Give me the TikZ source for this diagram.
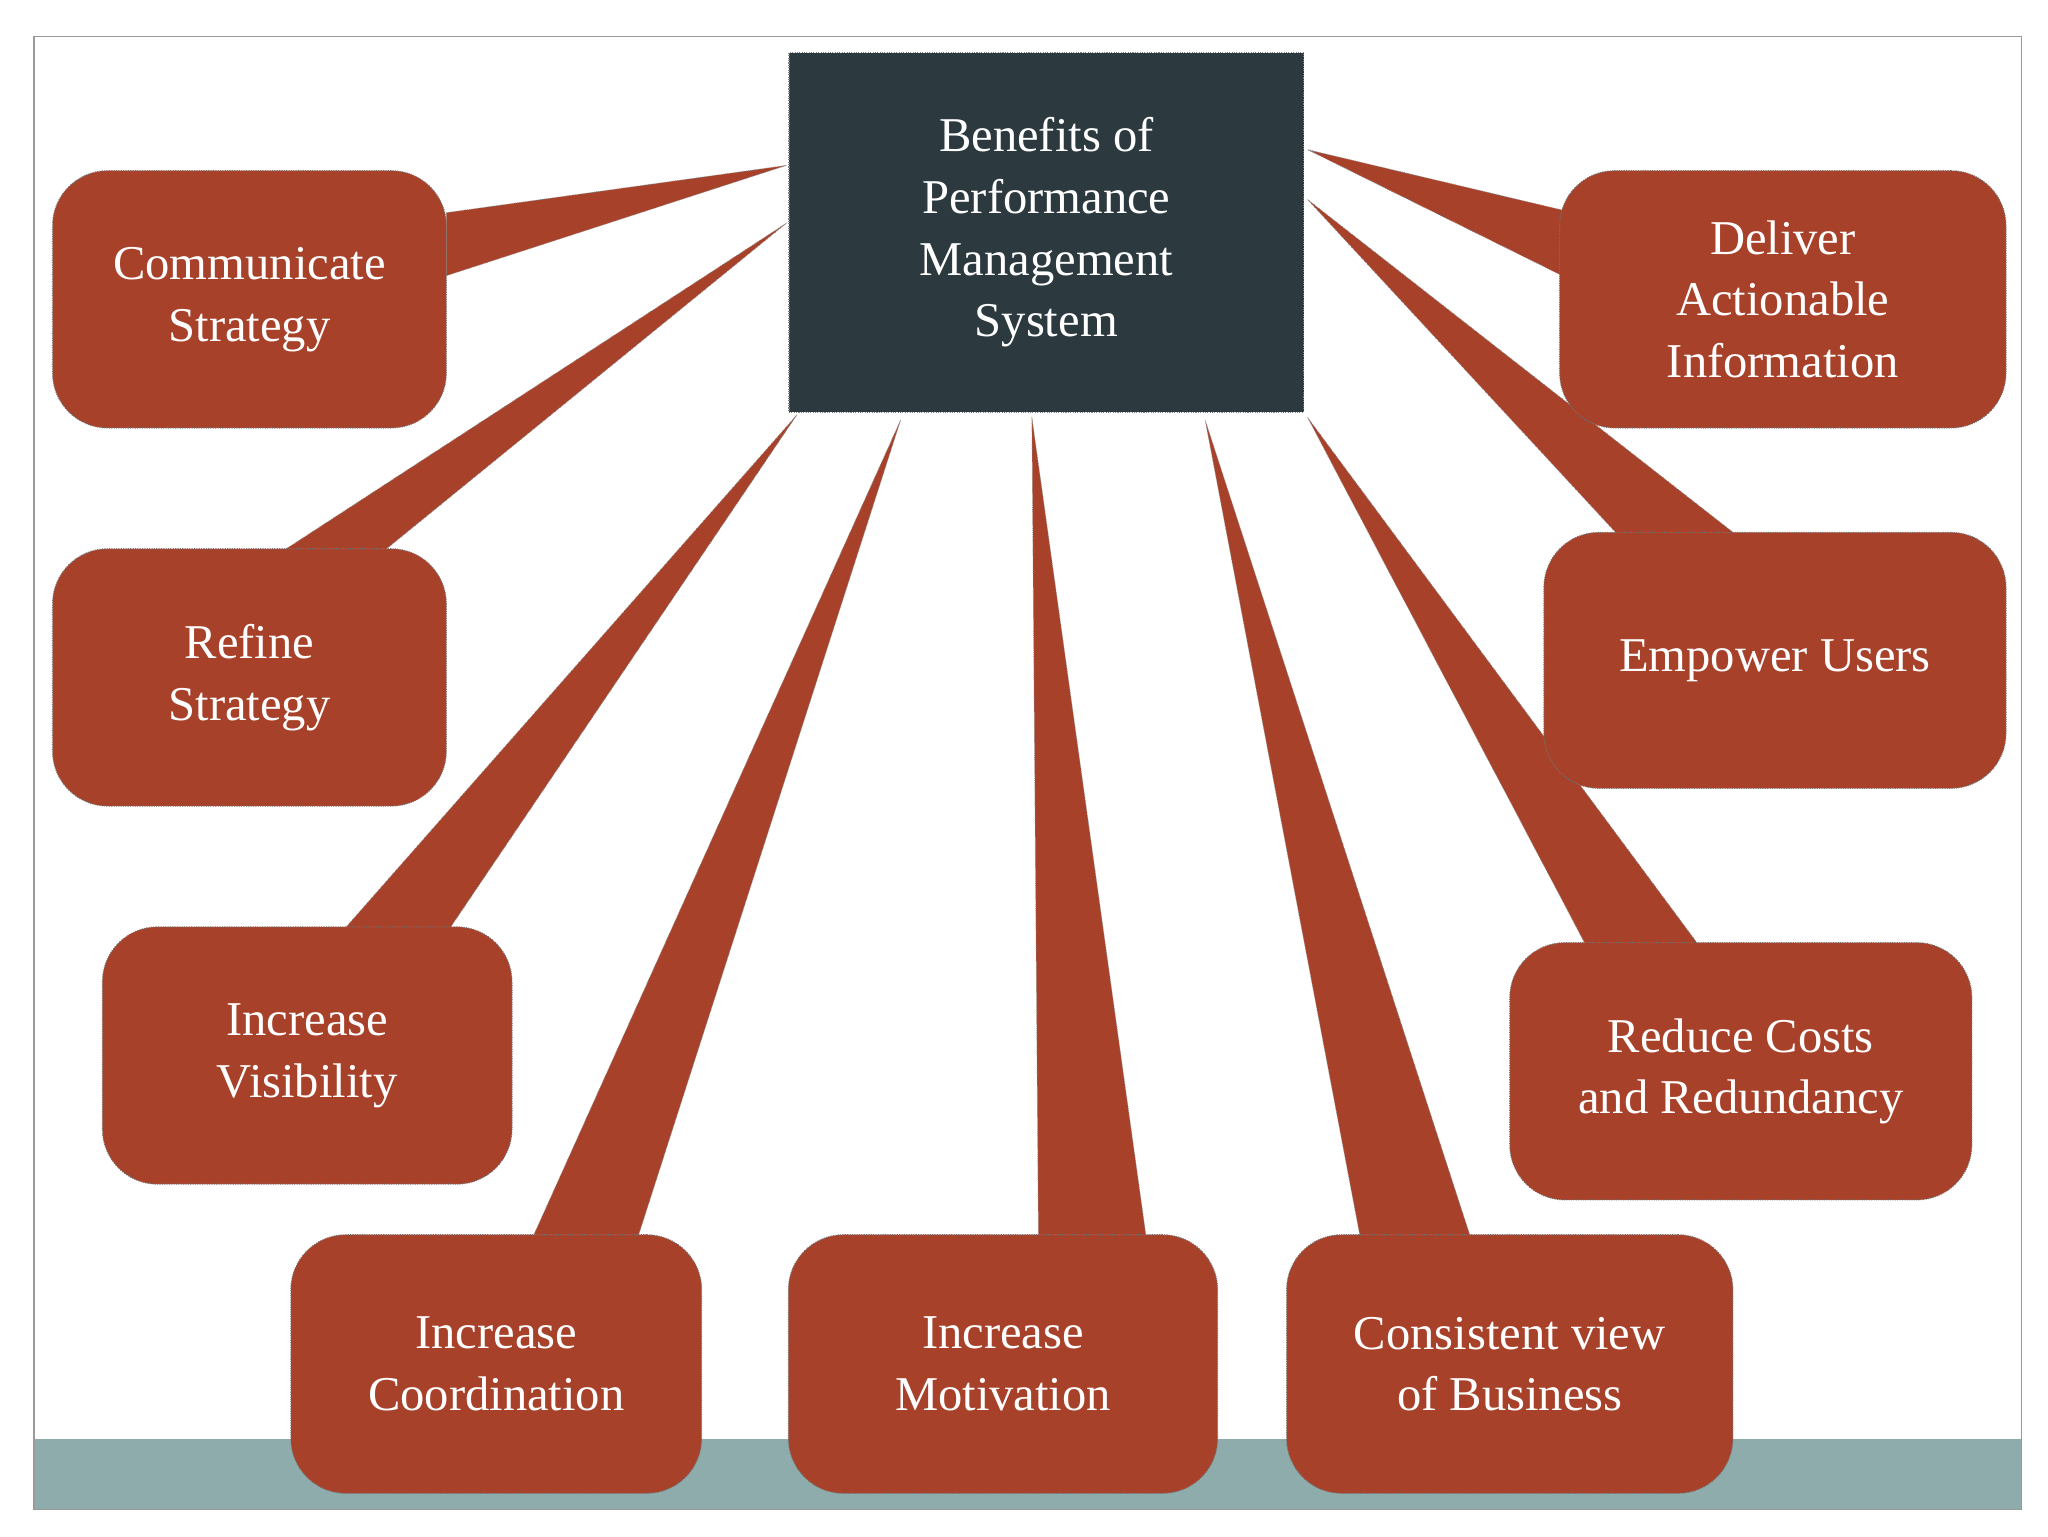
\documentclass[tikz,border=0pt]{standalone}
\usepackage{fontspec}
\setmainfont{Liberation Serif}
\usetikzlibrary{calc}
\definecolor{rust}{RGB}{168,65,42}
\definecolor{slate}{RGB}{44,58,63}
\definecolor{band}{RGB}{143,172,172}
\tikzset{
 callout/.style={fill=rust,draw=black!55,densely dotted,line width=0.8pt,rounded corners=42pt,text=white,align=center,font=\fontsize{37}{47}\selectfont,inner sep=0pt},
 wedge/.style={fill=rust,draw=black!45,densely dotted,line width=0.6pt}
}
\begin{document}
\begin{tikzpicture}[x=1pt,y=-1pt]
\useasboundingbox (0,0) rectangle (1560,1170);
\fill[white] (0,0) rectangle (1560,1170);
\fill[band] (26,1096) rectangle (1540,1150);
\draw[black!40,line width=1pt] (26,28) rectangle (1540,1150);
% center
\node[fill=slate,draw=black!50,densely dotted,line width=0.8pt,minimum width=392pt,minimum height=274pt,text=white,align=center,font=\fontsize{37}{47}\selectfont,inner sep=0pt] (c) at (797,177) {Benefits of\\Performance\\Management\\System};
% tips on the centre box
\coordinate (t1) at (599,126);
\coordinate (t2) at (599,170);
\coordinate (t3) at (607,316);
\coordinate (t4) at (686,320);
\coordinate (t5) at (786,318);
\coordinate (t6) at (918,320);
\coordinate (t7) at (996,318);
\coordinate (t8) at (996,152);
\coordinate (t9) at (996,114);
% wedges
\fill[wedge] (340,162) -- (t1) -- (340,210) -- cycle;
\fill[wedge] (215,420) -- (t2) -- (292,420) -- cycle;
\fill[wedge] (262,708) -- (t3) -- (342,708) -- cycle;
\fill[wedge] (406,942) -- (t4) -- (486,942) -- cycle;
\fill[wedge] (791,942) -- (t5) -- (873,942) -- cycle;
\fill[wedge] (1036,942) -- (t6) -- (1120,942) -- cycle;
\fill[wedge] (1208,720) -- (t7) -- (1294,720) -- cycle;
\fill[wedge] (1232,407) -- (t8) -- (1322,407) -- cycle;
\fill[wedge] (1190,160) -- (t9) -- (1190,210) -- cycle;
% boxes
\node[callout,minimum width=300pt,minimum height=196pt] (b1) at (190,228) {Communicate\\Strategy};
\node[callout,minimum width=300pt,minimum height=196pt] (b2) at (190,516) {Refine\\Strategy};
\node[callout,minimum width=312pt,minimum height=196pt] (b3) at (234,804) {Increase\\Visibility};
\node[callout,minimum width=313pt,minimum height=197pt] (b4) at (378,1039) {Increase\\Coordination};
\node[callout,minimum width=327pt,minimum height=197pt] (b5) at (764,1039) {Increase\\Motivation};
\node[callout,minimum width=340pt,minimum height=197pt] (b6) at (1150,1039) {Consistent view\\of Business};
\node[callout,minimum width=352pt,minimum height=196pt] (b7) at (1326,816) {Reduce Costs\\and Redundancy};
\node[callout,minimum width=352pt,minimum height=195pt] (b8) at (1352,503) {Empower Users};
\node[callout,minimum width=340pt,minimum height=196pt] (b9) at (1358,228) {Deliver\\Actionable\\Information};
\end{tikzpicture}
\end{document}
